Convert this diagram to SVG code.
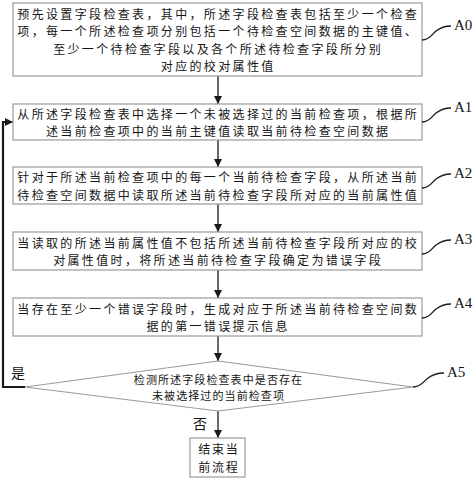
<svg xmlns="http://www.w3.org/2000/svg" width="474" height="479" viewBox="0 0 474 479">
<style>
.box{fill:#fff;stroke:#9a9a9a;stroke-width:1.2}
.t{font-family:"Noto Sans CJK SC","Noto Sans CJK JP",sans-serif;font-size:12px;fill:#151515;text-anchor:middle;dominant-baseline:central;letter-spacing:2.35px}
.ts{font-family:"Noto Sans CJK SC","Noto Sans CJK JP",sans-serif;font-size:11px;fill:#151515;text-anchor:middle;dominant-baseline:central;letter-spacing:1.1px}
.lb{font-family:"Liberation Serif","Times New Roman",serif;font-size:15px;fill:#151515;dominant-baseline:central}
.c{fill:none;stroke:#1a1a1a;stroke-width:1.3}
.lead{fill:none;stroke:#1a1a1a;stroke-width:1.3}
</style>
<defs>
<marker id="ah" viewBox="0 0 10 10" refX="10" refY="5" markerWidth="8" markerHeight="8" markerUnits="userSpaceOnUse" orient="auto">
<path d="M0,0 L10,5 L0,10 z" fill="#1a1a1a"/>
</marker>
</defs>
<g id="connectors">
<line class="c" x1="218" y1="76" x2="218" y2="104" marker-end="url(#ah)"/>
<line class="c" x1="218" y1="140" x2="218" y2="167" marker-end="url(#ah)"/>
<line class="c" x1="218" y1="204" x2="218" y2="232" marker-end="url(#ah)"/>
<line class="c" x1="218" y1="270" x2="218" y2="298" marker-end="url(#ah)"/>
<line class="c" x1="218" y1="336" x2="218" y2="361" marker-end="url(#ah)"/>
<line class="c" x1="218" y1="411" x2="218" y2="438" marker-end="url(#ah)"/>
<polyline class="c" style="stroke-width:2.2" points="25,387 3,387 3,122 6,122"/>
<line class="c" x1="4" y1="122" x2="13" y2="122" marker-end="url(#ah)"/>
</g>
<g id="A0">
<rect class="box" x="13" y="3" width="409" height="73"/>
<text class="t" x="218.2" y="13.25">预先设置字段检查表，其中，所述字段检查表包括至少一个检查</text>
<text class="t" x="218.2" y="30.75">项，每一个所述检查项分别包括一个待检查空间数据的主键值、</text>
<text class="t" x="218.2" y="48.25">至少一个待检查字段以及各个所述待检查字段所分别</text>
<text class="t" x="218.2" y="65.75">对应的校对属性值</text>
<path class="lead" d="M422,40 C430,40 432,34 436,31 S444,26 451,26"/>
<text class="lb" x="454" y="25">A0</text>
</g>
<g id="A1">
<rect class="box" x="13" y="104" width="409" height="36"/>
<text class="t" x="218.2" y="113.25">从所述字段检查表中选择一个未被选择过的当前检查项，根据所</text>
<text class="t" x="218.2" y="130.75">述当前检查项中的当前主键值读取当前待检查空间数据</text>
<path class="lead" d="M422,122 C430,122 432,116 436,113 S444,108 451,108"/>
<text class="lb" x="454" y="107">A1</text>
</g>
<g id="A2">
<rect class="box" x="13" y="167" width="409" height="37"/>
<text class="t" x="218.2" y="176.75">针对于所述当前检查项中的每一个当前待检查字段，从所述当前</text>
<text class="t" x="218.2" y="194.25">待检查空间数据中读取所述当前待检查字段所对应的当前属性值</text>
<path class="lead" d="M422,188 C430,188 432,182 436,179 S444,174 451,174"/>
<text class="lb" x="454" y="173">A2</text>
</g>
<g id="A3">
<rect class="box" x="13" y="232" width="409" height="38"/>
<text class="t" x="218.2" y="242.25">当读取的所述当前属性值不包括所述当前待检查字段所对应的校</text>
<text class="t" x="218.2" y="259.75">对属性值时，将所述当前待检查字段确定为错误字段</text>
<path class="lead" d="M422,254 C430,254 432,248 436,245 S444,240 451,240"/>
<text class="lb" x="454" y="239">A3</text>
</g>
<g id="A4">
<rect class="box" x="13" y="298" width="409" height="38"/>
<text class="t" x="218.2" y="308.25">当存在至少一个错误字段时，生成对应于所述当前待检查空间数</text>
<text class="t" x="218.2" y="325.75">据的第一错误提示信息</text>
<path class="lead" d="M422,318 C430,318 432,312 436,309 S444,304 451,304"/>
<text class="lb" x="454" y="303">A4</text>
</g>
<g id="A5">
<polygon class="box" points="218,361 413,387 218,411 25,387"/>
<text class="ts" x="218.5" y="379">检测所述字段检查表中是否存在</text>
<text class="ts" x="218.5" y="395">未被选择过的当前检查项</text>
<path class="lead" d="M413,387 C421,387 424,381 428,378 S436,373 444,373"/>
<text class="lb" x="447" y="372">A5</text>
<text class="t" x="18" y="372" style="letter-spacing:0;font-size:14px">是</text>
<text class="t" x="200" y="423" style="letter-spacing:0;font-size:14px">否</text>
</g>
<g id="end">
<rect class="box" x="190" y="438" width="55" height="39"/>
<text class="t" x="218.9" y="448" style="letter-spacing:1.8px">结束当</text>
<text class="t" x="218.9" y="466" style="letter-spacing:1.8px">前流程</text>
</g>
</svg>
